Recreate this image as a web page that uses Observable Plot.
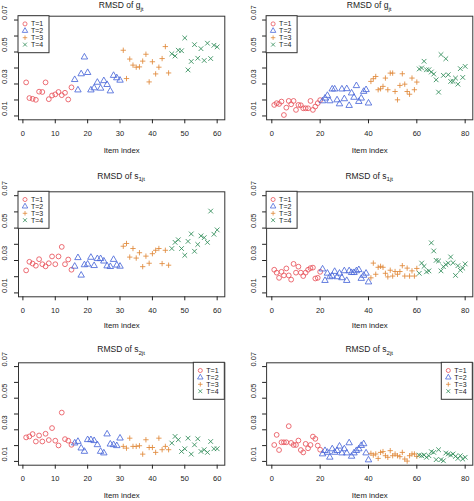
<!DOCTYPE html>
<html><head><meta charset="utf-8">
<script src="https://cdn.jsdelivr.net/npm/d3@7"></script>
<script src="https://cdn.jsdelivr.net/npm/@observablehq/plot@0.6"></script>
<style>
body{margin:0;background:#fff}
#fig{position:relative;width:474px;height:501px;overflow:hidden;background:#fff}
#fig svg{position:absolute}
</style></head>
<body><div id="fig"></div>
<script>
const groups = ["T=1","T=2","T=3","T=4"];
const yTicks = [0.01,0.02,0.03,0.04,0.05,0.06,0.07];
const yTickLabels = [0.01,0.03,0.05,0.07];
const xTicks60 = [0,10,20,30,40,50,60];
const xTicks80 = [0,20,40,60,80];
const xLabel = "Item index";

// RMSD of g_jt, 60 items
const g60 = [0.031,0.0212,0.0207,0.0201,0.0252,0.025,0.031,0.0205,0.0228,0.0235,0.025,0.023,0.0245,0.0203,0.0279,
  0.0327,0.0262,0.0363,0.0468,0.0371,0.0262,0.0275,0.031,0.0273,0.032,0.0296,0.0256,0.0353,0.0338,0.0323,
  0.0511,0.0334,0.0456,0.0418,0.0405,0.0407,0.0443,0.0486,0.0313,0.0439,0.0363,0.0405,0.0459,0.0534,0.0369,
  0.0489,0.0475,0.0511,0.0508,0.0588,0.0388,0.0441,0.0546,0.0461,0.0521,0.0447,0.0555,0.0459,0.0542,0.0532];
// RMSD of g_jt, 80 items
const g80 = [0.0169,0.018,0.0175,0.019,0.0106,0.0152,0.0194,0.0173,0.0194,0.0138,0.0169,0.0167,0.0148,0.0148,0.0148,0.0194,0.0138,0.0159,0.018,0.0199,
  0.0194,0.0211,0.0228,0.0194,0.0268,0.0268,0.02,0.0175,0.0268,0.0207,0.027,0.0165,0.0243,0.0216,0.0289,0.019,0.0211,0.0253,0.0264,0.018,
  0.0316,0.0333,0.0347,0.0264,0.027,0.0285,0.0337,0.0264,0.0368,0.0368,0.0253,0.0201,0.0291,0.0364,0.0299,0.0253,0.0236,0.0337,0.0264,0.0312,
  0.0394,0.04,0.0442,0.0389,0.0389,0.0375,0.0362,0.0326,0.0249,0.0484,0.0354,0.0458,0.0358,0.0316,0.0316,0.0337,0.0299,0.0396,0.0341,0.041];
// RMSD of s_1jt, 60 items
const s1_60 = [0.0239,0.0292,0.0281,0.0268,0.0308,0.0277,0.0264,0.0283,0.0325,0.0277,0.0325,0.0384,0.0277,0.0306,0.0243,
  0.0264,0.0317,0.0209,0.0273,0.0277,0.0319,0.0268,0.0311,0.0311,0.0296,0.0266,0.0262,0.0306,0.0271,0.0264,
  0.0388,0.0405,0.0321,0.0374,0.0315,0.0348,0.0262,0.0327,0.0283,0.0342,0.0363,0.0374,0.0281,0.0363,0.0271,
  0.0374,0.0412,0.0428,0.0374,0.0332,0.0418,0.0464,0.0357,0.0399,0.0452,0.0441,0.0412,0.0605,0.0462,0.0489];
// RMSD of s_1jt, 80 items
const s1_80 = [0.0243,0.0225,0.0193,0.023,0.0208,0.0251,0.0208,0.0182,0.0279,0.0225,0.0262,0.0225,0.0204,0.0225,0.0243,0.0253,0.0256,0.0189,0.0193,0.023,
  0.0247,0.0176,0.0221,0.0199,0.0204,0.0232,0.0199,0.0221,0.0193,0.0236,0.0176,0.0236,0.0225,0.0225,0.0236,0.0243,0.0189,0.0208,0.0221,0.0167,
  0.0193,0.0284,0.0215,0.0258,0.0264,0.0258,0.0221,0.0199,0.024,0.0204,0.0232,0.0215,0.0232,0.0268,0.0204,0.0253,0.0204,0.0236,0.0204,0.0251,
  0.0221,0.0284,0.0264,0.023,0.0236,0.0409,0.0359,0.0301,0.0297,0.0236,0.0262,0.0275,0.0284,0.0322,0.0286,0.0208,0.0268,0.024,0.0253,0.0279];
// RMSD of s_2jt, 60 items
const s2_60 = [0.0252,0.0258,0.0273,0.0226,0.0264,0.0226,0.0275,0.0235,0.0311,0.0231,0.0201,0.0409,0.0241,0.0231,0.0205,
  0.0216,0.0226,0.0184,0.0163,0.0237,0.0237,0.0231,0.0205,0.0163,0.0153,0.0273,0.0209,0.0205,0.0199,0.0247,
  0.0195,0.0184,0.0247,0.0195,0.0195,0.0199,0.0146,0.0237,0.0188,0.0188,0.0157,0.0247,0.0174,0.0195,0.0174,
  0.0216,0.0258,0.0237,0.0163,0.018,0.0247,0.0146,0.0205,0.0243,0.0163,0.0174,0.0157,0.0226,0.018,0.018];
// RMSD of s_2jt, 80 items
const s2_80 = [0.0204,0.0268,0.0172,0.0221,0.0221,0.0221,0.0323,0.0217,0.0204,0.0204,0.0232,0.0172,0.0157,0.0211,0.0183,0.0204,0.0257,0.0243,0.02,0.0174,
  0.0147,0.0168,0.0157,0.0126,0.0179,0.0157,0.0168,0.0196,0.0153,0.0179,0.0153,0.0217,0.0132,0.0153,0.0168,0.0179,0.02,0.0211,0.0153,0.0109,
  0.0151,0.014,0.0147,0.0119,0.0157,0.0162,0.0136,0.0126,0.0168,0.0136,0.0147,0.0136,0.013,0.0157,0.0115,0.0102,0.0136,0.0147,0.0147,0.0132,
  0.014,0.0136,0.014,0.0126,0.0136,0.0162,0.0157,0.0111,0.0174,0.0111,0.0104,0.0153,0.0147,0.014,0.0147,0.0132,0.0119,0.0136,0.0115,0.0126];

// styles
const colors = ["#E8545C","#4A68D9","#E0893A","#2E8B57"];
const symbols = ["circle","triangle","plus","times"];
const symR = [2.4,2.4,1.85,2.25];
const d3sym = {circle:d3.symbolCircle, triangle:d3.symbolTriangle, plus:d3.symbolPlus, times:d3.symbolTimes};
const FONT = "'Liberation Sans', Arial, Helvetica, sans-serif";
const W = 237, H = 167;
const rows = [
  {top:15.7, bottom:47.7, titleY:5.4, labelDy:33.2},
  {top:24.3, bottom:37.7, titleY:8.5, labelDy:31.2},
  {top:28.3, bottom:36.3, titleY:15.3, labelDy:32.6}
];
const cols = [
  {x:0, left:18, right:12.7},
  {x:237, left:29.1, right:1.7}
];

function panel(values, xTicks, base, sub, r, c, legendRight) {
  const row = rows[r], col = cols[c];
  const n = values.length, per = n / 4;
  const data = values.map((v, i) => ({x: i + 1, y: v, g: Math.floor(i / per)}));
  const pad = 0.04 * (n - 1);
  const svg = Plot.plot({
    width: W, height: H,
    marginTop: row.top, marginBottom: row.bottom, marginLeft: col.left, marginRight: col.right,
    style: {fontFamily: FONT, fontSize: "7.5px", background: "white", color: "#222", overflow: "visible"},
    x: {domain: [1 - pad, n + pad]},
    y: {domain: [0.0076, 0.0724]},
    marks: [
      ...groups.map((g, k) => Plot.dot(data.filter(d => d.g === k), {
        x: "x", y: "y", symbol: symbols[k], r: symR[k], stroke: colors[k], fill: "none", strokeWidth: 0.85
      })),
      Plot.frame({stroke: "#333", strokeWidth: 1}),
      Plot.axisX({ticks: xTicks, tickSize: 4, tickPadding: 6.8, fontSize: 7.5, label: null, tickFormat: d => String(d)}),
      Plot.axisY({ticks: yTicks, tickSize: 4, tickFormat: () => "", label: null}),
      Plot.text(yTickLabels, {y: d => d, frameAnchor: "left", dx: -13.5, rotate: -90, text: d => d.toFixed(2), fontSize: 7.5, fill: "#222"}),
      Plot.text([xLabel], {frameAnchor: "bottom", dy: row.labelDy, fontSize: 7.8, fill: "#222"})
    ]
  });
  const s = d3.select(svg).style("left", col.x + "px").style("top", (r * 167) + "px");
  const cx = col.left + (W - col.left - col.right) / 2;
  const t = s.append("text").attr("x", cx).attr("y", row.titleY + 3)
    .attr("text-anchor", "middle").attr("font-size", 8.5).attr("fill", "#222").attr("font-family", FONT);
  t.append("tspan").text("RMSD of " + base);
  t.append("tspan").attr("dy", 2.2).attr("font-size", 6.2).text(sub);
  // legend
  const lw = 31, lh = 37;
  const lx = legendRight ? W - col.right - lw : col.left;
  const ly = row.top;
  const lg = s.append("g").attr("transform", `translate(${lx},${ly})`);
  lg.append("rect").attr("width", lw).attr("height", lh).attr("fill", "white").attr("stroke", "#333").attr("stroke-width", 1);
  groups.forEach((g, k) => {
    const yy = 8.2 + k * 6.9;
    const rr = symR[k] * 0.85;
    lg.append("path").attr("transform", `translate(7,${yy})`)
      .attr("d", d3.symbol(d3sym[symbols[k]], Math.PI * rr * rr)())
      .attr("fill", "none").attr("stroke", colors[k]).attr("stroke-width", 0.8);
    lg.append("text").attr("x", 13).attr("y", yy).attr("dy", "0.35em").attr("text-anchor", "start")
      .attr("font-size", 7).attr("fill", "#222").attr("font-family", FONT).text(g);
  });
  document.getElementById("fig").appendChild(svg);
}

panel(g60, xTicks60, "g", "jt", 0, 0, false);
panel(g80, xTicks80, "g", "jt", 0, 1, false);
panel(s1_60, xTicks60, "s", "1jt", 1, 0, false);
panel(s1_80, xTicks80, "s", "1jt", 1, 1, false);
panel(s2_60, xTicks60, "s", "2jt", 2, 0, true);
panel(s2_80, xTicks80, "s", "2jt", 2, 1, true);
</script>
</body></html>
